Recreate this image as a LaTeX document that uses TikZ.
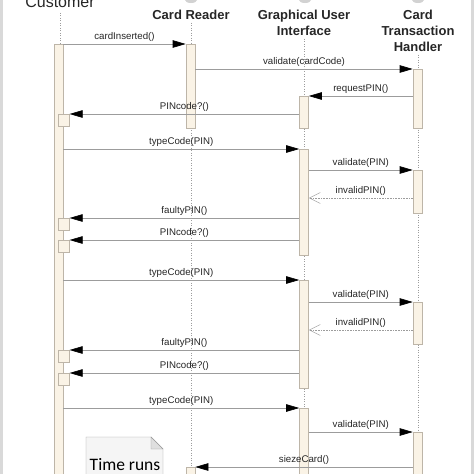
\documentclass[tikz,border=0pt]{standalone}
\usepackage{fontspec}
\setmainfont{Liberation Sans}
\newfontfamily\notefont{Carlito}
\usepackage{tikz}
\usetikzlibrary{positioning, arrows.meta}
\definecolor{barfill}{HTML}{FAF3E6}
\definecolor{barline}{HTML}{BDB5A8}
\definecolor{msgline}{HTML}{9C9C9C}
\definecolor{labeltext}{HTML}{262626}

\begin{document}
\begin{tikzpicture}[x=1pt, y=-1pt,
    bar/.style={draw=barline, fill=barfill, line width=0.6pt, minimum width=9pt, inner sep=0pt, anchor=north},
    ackbox/.style={draw=barline, fill=barfill, line width=0.6pt, minimum width=11pt, minimum height=12pt, inner sep=0pt, anchor=north west},
    msg/.style={draw=msgline, line width=0.6pt, -{Triangle[length=13pt,width=7.5pt,color=black]}},
    reply/.style={draw=msgline, line width=0.6pt, densely dotted, -{Straight Barb[length=11pt,width=11pt,line width=0.5pt]}},
    lifeline/.style={draw=msgline, line width=0.5pt, dotted},
    lbl/.style={font=\fontsize{9.7}{11}\selectfont, text=labeltext, above=1.2pt, inner sep=1pt},
    head/.style={font=\fontsize{13}{16}\selectfont\bfseries, align=center, text=labeltext, anchor=north, inner sep=0pt}
]
\useasboundingbox (0,0) rectangle (474,474);
\fill[gray!30] (0,0) rectangle (2.5,474);
\fill[gray!30] (471,0) rectangle (474,474);
\foreach \x in {191,305,418}
    \fill[gray!35] (\x,0) ellipse (6pt and 3pt);

% headers
\node[font=\fontsize{16}{18}\selectfont, text=labeltext, anchor=base, inner sep=0pt] (hcust) at (60,7.5) {Customer};
\node[head] (hcr) at (191,9.6) {Card Reader};
\node[head] (hgui) at (304,9.6) {Graphical User\\Interface};
\node[head] (hcth) at (418,9.6) {Card\\Transaction\\Handler};

% lifelines
\draw[lifeline] ([yshift=-5pt]hcust.south) -- (hcust.south |- 0,44);
\draw[lifeline] ([yshift=-3pt]hcr.south) -- (hcr.south |- 0,480);
\draw[lifeline] ([yshift=-3pt]hgui.south) -- (hgui.south |- 0,480);
\draw[lifeline] ([yshift=-3pt]hcth.south) -- (hcth.south |- 0,480);

% activations
\node[bar, minimum height=440pt] (cust) at (58.5,44) {};
\node[bar, minimum height=84pt] (cr1) at (190.5,44) {};
\node[bar, minimum height=59pt] (cth1) at (417.5,69) {};
\node[bar, minimum height=32pt] (gui1) at (304,96) {};
\node[bar, minimum height=106pt] (gui2) at (304,149) {};
\node[bar, minimum height=43pt] (cth2) at (417.5,170) {};
\node[bar, minimum height=108pt] (gui3) at (304,280) {};
\node[bar, minimum height=42pt] (cth3) at (417.5,302) {};
\node[bar, minimum height=80pt] (gui4) at (304,408) {};
\node[bar, minimum height=50pt] (cth4) at (417.5,432) {};
\node[bar, minimum height=20pt] (cr2) at (190.5,467) {};
\node[ackbox] (ack1) at (58,114) {};
\node[ackbox] (ack2) at (58,218) {};
\node[ackbox] (ack3) at (58,240) {};
\node[ackbox] (ack4) at (58,350) {};
\node[ackbox] (ack5) at (58,373) {};
\coordinate (ret1) at (417.5,198);
\coordinate (ret2) at (417.5,330);

% messages
\draw[msg] (cust.east |- cr1.north) -- node[lbl] {cardInserted()} (cr1.north west);
\draw[msg] (cr1.east |- cth1.north) -- node[lbl] {validate(cardCode)} (cth1.north west);
\draw[msg] (cth1.west |- gui1.north) -- node[lbl] {requestPIN()} (gui1.north east);
\draw[msg] (gui1.west |- ack1.north) -- node[lbl] {PINcode?()} (ack1.north east);
\draw[msg] (cust.east |- gui2.north) -- node[lbl] {typeCode(PIN)} (gui2.north west);
\draw[msg] (gui2.east |- cth2.north) -- node[lbl] {validate(PIN)} (cth2.north west);
\draw[reply] (cth2.west |- ret1) -- node[lbl] {invalidPIN()} (gui2.east |- ret1);
\draw[msg] (gui2.west |- ack2.north) -- node[lbl] {faultyPIN()} (ack2.north east);
\draw[msg] (gui2.west |- ack3.north) -- node[lbl] {PINcode?()} (ack3.north east);
\draw[msg] (cust.east |- gui3.north) -- node[lbl] {typeCode(PIN)} (gui3.north west);
\draw[msg] (gui3.east |- cth3.north) -- node[lbl] {validate(PIN)} (cth3.north west);
\draw[reply] (cth3.west |- ret2) -- node[lbl] {invalidPIN()} (gui3.east |- ret2);
\draw[msg] (gui3.west |- ack4.north) -- node[lbl] {faultyPIN()} (ack4.north east);
\draw[msg] (gui3.west |- ack5.north) -- node[lbl] {PINcode?()} (ack5.north east);
\draw[msg] (cust.east |- gui4.north) -- node[lbl] {typeCode(PIN)} (gui4.north west);
\draw[msg] (gui4.east |- cth4.north) -- node[lbl] {validate(PIN)} (cth4.north west);
\draw[msg] (cth4.west |- cr2.north) -- node[lbl] {siezeCard()} (cr2.north east);

% note
\draw[draw=msgline, fill=gray!8] (86,480) -- (86,437) -- (151,437) -- (163,449) -- (163,480);
\draw[draw=msgline, fill=gray!25] (151,437) -- (151,449) -- (163,449) -- cycle;
\node[font=\notefont\fontsize{17.5}{20}\selectfont, anchor=base, inner sep=0pt] (note) at (125,470) {Time runs};
\end{tikzpicture}
\end{document}
